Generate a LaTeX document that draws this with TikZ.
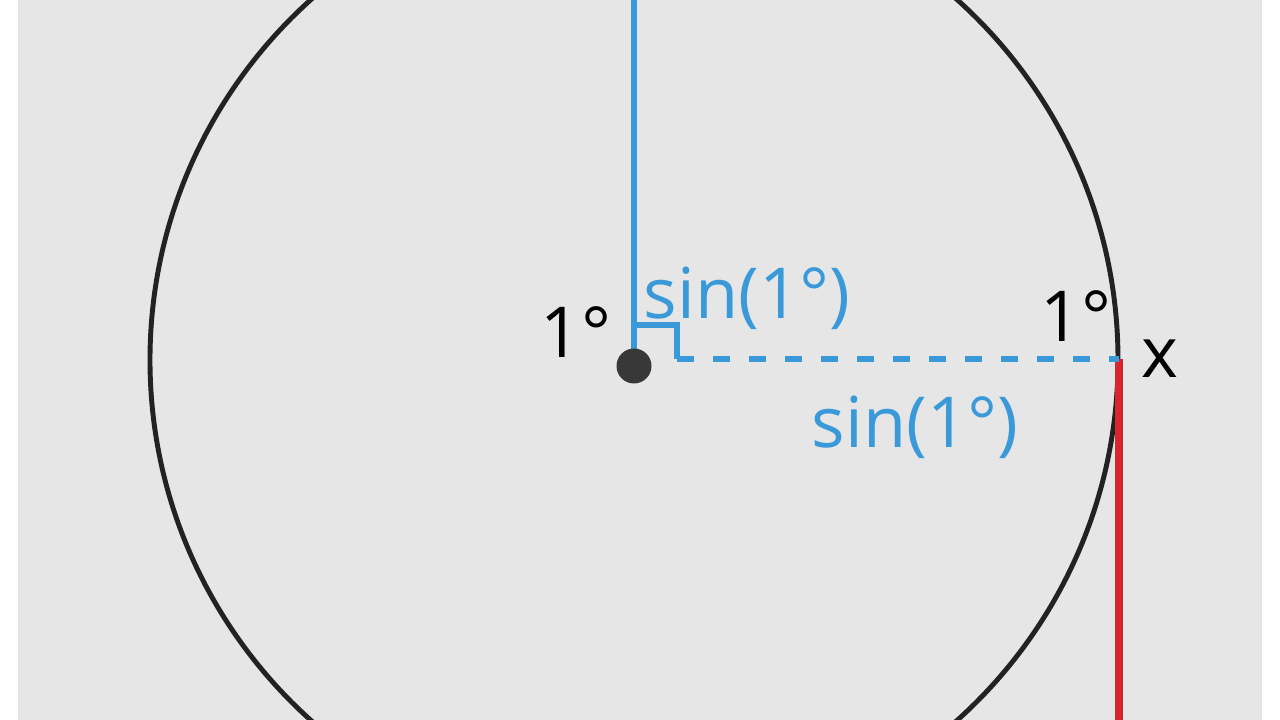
\documentclass[tikz,border=0pt]{standalone}
\usepackage{fontspec}
\setmainfont{Open Sans}
\usetikzlibrary{positioning}
\usepackage{xcolor}

\definecolor{bgray}{HTML}{E6E6E6}
\definecolor{sinblue}{HTML}{3A9AD9}
\definecolor{xred}{HTML}{D8262E}
\definecolor{circblack}{HTML}{222222}

\begin{document}
\begin{tikzpicture}[x=0.2mm,y=-0.2mm,
				big label/.style={inner sep=0pt,font=\fontsize{40}{48}\selectfont},
				blue label/.style={big label,text=sinblue},
				blue line/.style={draw=sinblue,line width=3.6pt},
				dot node/.style={circle,fill=circblack!90,inner sep=0pt,minimum size=0.7cm}]
				
				\useasboundingbox (0,0) rectangle (1280,720);
				\fill[white] (0,0) rectangle (1280,720);
				\fill[bgray] (18,0) rectangle (1262,720);
				
				\coordinate (C) at (634,360);
				\coordinate (T) at (634,0);
				\coordinate (P) at (1119,359);
				\coordinate (B) at (1119,720);
				\coordinate (Q) at (677,359);
				
				% circle
				\draw[circblack,line width=2.8pt] (C) circle (9.68cm);
				
				% red and blue lines
				\draw[xred,line width=4.4pt] (P) -- (B);
				\draw[blue line] (T) -- (634,362);
				\draw[blue line] (634,325) -- (677,325) -- (Q);
				\draw[blue line,dash pattern=on 0.34cm off 0.38cm] (Q) -- (P);
				
				\node[dot node] (O) at (634,366) {};
				
				% labels
				\node[big label] (ang1) at (576,332) {1°};
				\node[blue label] (sin1) at (747,298) {sin(1°)};
				\node[big label] (ang2) at (1076,316) {1°};
				\node[big label] (xlab) at (1160,359) {x};
				\node[blue label] (sin2) at (915,427) {sin(1°)};
				\end{tikzpicture}
\end{document}
